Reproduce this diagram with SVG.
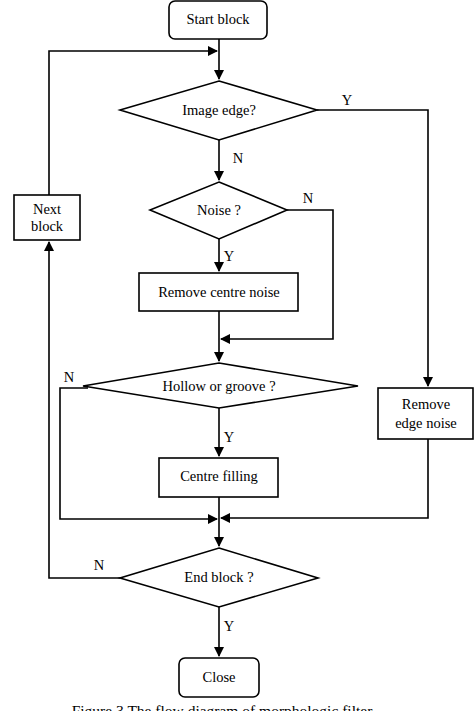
<svg xmlns="http://www.w3.org/2000/svg" width="474" height="711" viewBox="0 0 474 711" font-family="'Liberation Serif', 'Times New Roman', serif">
<defs>
<marker id="ah" markerWidth="10" markerHeight="10" refX="9" refY="5" orient="auto" markerUnits="userSpaceOnUse">
<path d="M0,0 L10,5 L0,10 Z" fill="#000"/>
</marker>
<style>
.s{fill:#fff;stroke:#000;stroke-width:1.6}
.c{fill:none;stroke:#000;stroke-width:1.6}
text{font-family:'Liberation Serif','Times New Roman',serif;font-size:14.5px;fill:#000}
.m{text-anchor:middle}
</style>
</defs>
<rect width="474" height="711" fill="#fff"/>
<g id="connectors">
<path class="c" d="M219,39 V79" marker-end="url(#ah)"/>
<path class="c" d="M49,195 V51 H217" marker-end="url(#ah)"/>
<path class="c" d="M317,110 H428 V386" marker-end="url(#ah)"/>
<path class="c" d="M219,140 V180" marker-end="url(#ah)"/>
<path class="c" d="M287,210 H333 V339 H221" marker-end="url(#ah)"/>
<path class="c" d="M219,239 V271" marker-end="url(#ah)"/>
<path class="c" d="M219,311 V361" marker-end="url(#ah)"/>
<path class="c" d="M88,388 H60 V519 H217" marker-end="url(#ah)"/>
<path class="c" d="M219,408 V456" marker-end="url(#ah)"/>
<path class="c" d="M219,497 V546" marker-end="url(#ah)"/>
<path class="c" d="M428,439 V518 H221" marker-end="url(#ah)"/>
<path class="c" d="M120,578 H49 V242" marker-end="url(#ah)"/>
<path class="c" d="M219,607 V656" marker-end="url(#ah)"/>
<text x="347" y="105" class="m">Y</text>
<text x="238" y="163" class="m">N</text>
<text x="308" y="203" class="m">N</text>
<text x="229" y="261" class="m">Y</text>
<text x="69" y="382" class="m">N</text>
<text x="229" y="442" class="m">Y</text>
<text x="99" y="570" class="m">N</text>
<text x="229" y="631" class="m">Y</text>
</g>
<g id="start"><rect class="s" x="169" y="1" width="98" height="38" rx="6"/><text x="218" y="24" class="m">Start block</text></g>
<g id="imageEdge"><polygon class="s" points="219,81 317,110 219,140 120,110"/><text x="219" y="115" class="m">Image edge?</text></g>
<g id="noise"><polygon class="s" points="219,182 287,210 219,239 150,210"/><text x="219" y="215" class="m">Noise ?</text></g>
<g id="removeCentre"><rect class="s" x="139" y="273" width="159" height="38"/><text x="219" y="297" class="m">Remove centre noise</text></g>
<g id="nextBlock"><rect class="s" x="14" y="195" width="66" height="45"/><text x="47" y="214" class="m">Next</text><text x="47" y="231" class="m">block</text></g>
<g id="hollow"><polygon class="s" points="219,363 358,386 219,408 83,386"/><text x="219" y="391" class="m">Hollow or groove ?</text></g>
<g id="centreFilling"><rect class="s" x="159" y="458" width="119" height="39"/><text x="219" y="481" class="m">Centre filling</text></g>
<g id="removeEdge"><rect class="s" x="378" y="388" width="95" height="51"/><text x="426" y="409" class="m">Remove</text><text x="426" y="428" class="m">edge noise</text></g>
<g id="endBlock"><polygon class="s" points="219,548 318,578 219,607 120,578"/><text x="219" y="582" class="m">End block ?</text></g>
<g id="close"><rect class="s" x="179" y="658" width="80" height="39" rx="6"/><text x="219" y="682" class="m">Close</text></g>
<text x="222" y="716" class="m" style="font-size:15.5px">Figure 3 The flow diagram of morphologic filter</text>
</svg>
